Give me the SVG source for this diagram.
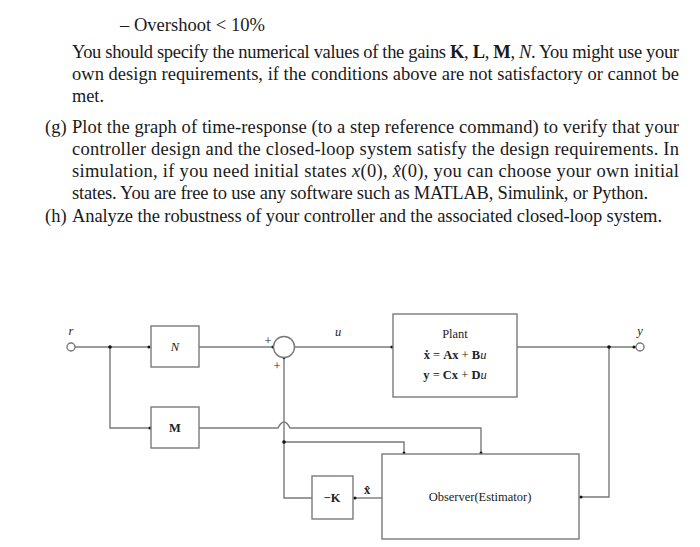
<svg xmlns="http://www.w3.org/2000/svg" width="700" height="547" viewBox="0 0 700 547">
<style>
.t{font-family:"Liberation Serif","Times New Roman",serif;font-size:18.5px;fill:#1a1a1a}
.d{font-family:"Liberation Serif","Times New Roman",serif;font-size:12.5px;fill:#222}
.w{stroke:#7a7a7a;stroke-width:1.4;fill:none}
.box{stroke:#7a7a7a;stroke-width:1.4;fill:#fff}
.dot{fill:#111}
.b{font-weight:bold}
.i{font-style:italic}
</style>
<rect width="700" height="547" fill="#fff"/>
<g id="text">
<text class="t" x="120" y="31" textLength="145" lengthAdjust="spacingAndGlyphs">– Overshoot &lt; 10%</text>
<text class="t" x="72" y="58" textLength="607" lengthAdjust="spacing">You should specify the numerical values of the gains <tspan class="b">K</tspan>, <tspan class="b">L</tspan>, <tspan class="b">M</tspan>, <tspan class="i">N</tspan>. You might use your</text>
<text class="t" x="72" y="80" textLength="607" lengthAdjust="spacing">own design requirements, if the conditions above are not satisfactory or cannot be</text>
<text class="t" x="72" y="102" textLength="32" lengthAdjust="spacingAndGlyphs">met.</text>
<text class="t" x="45" y="133">(g)</text>
<text class="t" x="72" y="133" textLength="607" lengthAdjust="spacing">Plot the graph of time-response (to a step reference command) to verify that your</text>
<text class="t" x="72" y="155" textLength="607" lengthAdjust="spacing">controller design and the closed-loop system satisfy the design requirements. In</text>
<text class="t" x="72" y="177" textLength="607" lengthAdjust="spacing">simulation, if you need initial states <tspan class="i">x</tspan>(0), <tspan class="i">x̂</tspan>(0), you can choose your own initial</text>
<text class="t" x="72" y="199" textLength="576" lengthAdjust="spacing">states. You are free to use any software such as MATLAB, Simulink, or Python.</text>
<text class="t" x="45" y="222">(h)</text>
<text class="t" x="72" y="222" textLength="590" lengthAdjust="spacing">Analyze the robustness of your controller and the associated closed-loop system.</text>
</g>
<g id="connectors">
<path class="w" d="M75 347 H150"/>
<path class="w" d="M110 347 V428 H151"/>
<path class="w" d="M199 347 H273"/>
<path class="w" d="M295 347 H393"/>
<path class="w" d="M517 347 H636"/>
<path class="w" d="M609 347 V497 H579"/>
<path class="w" d="M199 428 H278 Q284 416 290 428 H481 V454"/>
<path class="w" d="M284 357 V498 H312"/>
<path class="w" d="M284 442 H404 V454"/>
<path class="w" d="M382 498 H353"/>
<circle class="dot" cx="110" cy="347" r="1.8"/>
<circle class="dot" cx="149" cy="347" r="1.5"/>
<circle class="dot" cx="150" cy="428" r="1.5"/>
<circle class="dot" cx="273" cy="347" r="1.5"/>
<circle class="dot" cx="284" cy="357.5" r="1.5"/>
<circle class="dot" cx="392" cy="347" r="1.5"/>
<circle class="dot" cx="609" cy="347" r="1.8"/>
<circle class="dot" cx="634" cy="347" r="1.5"/>
<circle class="dot" cx="581" cy="497" r="1.5"/>
<circle class="dot" cx="284" cy="442" r="1.8"/>
<circle class="dot" cx="404" cy="453" r="1.5"/>
<circle class="dot" cx="481" cy="453" r="1.5"/>
<circle class="dot" cx="355" cy="498" r="1.5"/>
<text class="d i" x="338" y="336" text-anchor="middle">u</text>
<text class="d b" x="367" y="494" text-anchor="middle">x̂</text>
</g>
<g id="r">
<circle class="box" cx="71" cy="347" r="4"/>
<text class="d i" x="71" y="335" text-anchor="middle" font-size="11">r</text>
</g>
<g id="y">
<circle class="box" cx="640" cy="347" r="4"/>
<text class="d i" x="640" y="335" text-anchor="middle" font-size="11">y</text>
</g>
<g id="N">
<rect class="box" x="151" y="326" width="48" height="41"/>
<text class="d i" x="175" y="351" text-anchor="middle">N</text>
</g>
<g id="M">
<rect class="box" x="151" y="407" width="48" height="41"/>
<text class="d b" x="175" y="432" text-anchor="middle">M</text>
</g>
<g id="sum">
<circle class="box" cx="284" cy="347" r="10.5"/>
<text class="d" x="268" y="345" text-anchor="middle" font-size="14">+</text>
<text class="d" x="277" y="370" text-anchor="middle" font-size="14">+</text>
</g>
<g id="plant">
<rect class="box" x="393" y="314" width="124" height="83"/>
<text class="d" x="455" y="338" text-anchor="middle">Plant</text>
<text class="d" x="455" y="359" text-anchor="middle"><tspan class="b">ẋ</tspan> = <tspan class="b">Ax</tspan> + <tspan class="b">B</tspan><tspan class="i">u</tspan></text>
<text class="d" x="455" y="379" text-anchor="middle"><tspan class="b">y</tspan> = <tspan class="b">Cx</tspan> + <tspan class="b">D</tspan><tspan class="i">u</tspan></text>
</g>
<g id="K">
<rect class="box" x="312" y="476" width="41" height="43"/>
<text class="d b" x="332" y="502" text-anchor="middle">−K</text>
</g>
<g id="observer">
<rect class="box" x="382" y="454" width="197" height="85"/>
<text class="d" x="480" y="501" text-anchor="middle">Observer(Estimator)</text>
</g>
</svg>
